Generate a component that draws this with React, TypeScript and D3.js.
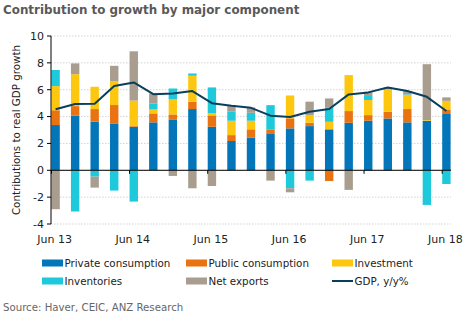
import React from "react";
import * as d3 from "d3";

const quarters = ["Jun 13","Sep 13","Dec 13","Mar 14","Jun 14","Sep 14","Dec 14","Mar 15","Jun 15","Sep 15","Dec 15","Mar 16","Jun 16","Sep 16","Dec 16","Mar 17","Jun 17","Sep 17","Dec 17","Mar 18","Jun 18"];
const privateConsumption = [3.37, 4.06, 3.62, 3.49, 3.24, 3.57, 3.79, 4.56, 3.24, 2.18, 2.42, 2.70, 3.12, 3.29, 3.05, 3.54, 3.69, 3.86, 3.57, 3.69, 4.19];
const publicConsumption = [1.1, 0.72, 0.94, 1.37, 0.05, 0.67, 0.37, 0.54, 0.85, 0.44, 0.63, 0.35, 0.75, 0.25, -0.8, 0.87, 0.42, 0.5, 0.99, 0.0, 0.34];
const investment = [1.8, 2.38, 1.66, 1.78, 1.9, 0.29, 1.12, 1.94, 0.15, 1.07, 0.64, 0.0, 1.7, 0.57, 0.56, 2.68, 1.12, 1.66, 1.04, 0.05, 0.64];
const inventories = [1.2, -3.07, -0.47, -1.51, -2.33, 0.45, 0.81, 0.17, 1.93, 0.67, 0.59, 1.8, -1.34, -0.77, 1.04, 0.0, 0.37, 0.0, 0.05, -2.58, -1.02];
const netExports = [-2.9, 0.8, -0.82, 1.14, 3.67, 0.74, -0.42, -1.34, -1.17, 0.42, 0.4, -0.77, -0.3, 1.0, 0.7, -1.46, 0.25, 0.15, 0.25, 4.16, 0.26];
const gdp = [4.55, 4.93, 4.95, 6.27, 6.54, 5.67, 5.72, 5.9, 5.0, 4.8, 4.65, 4.07, 3.97, 4.36, 4.56, 5.65, 5.8, 6.17, 5.9, 5.47, 4.41];
const yTicks = [10, 8, 6, 4, 2, 0, -2, -4];
const xTickLabels = ["Jun 13", "Jun 14", "Jun 15", "Jun 16", "Jun 17", "Jun 18"];

const seriesKeys = ["Private consumption", "Public consumption", "Investment", "Inventories", "Net exports"];
const seriesValues = [privateConsumption, publicConsumption, investment, inventories, netExports];
const colors = ["#0376B9", "#EA7311", "#FDC70F", "#1DC9DA", "#A99D90"];
const lineColor = "#0A3F5C";

const FONT = "'DejaVu Sans', Verdana, sans-serif";

export default function App() {
  const W = 470, H = 321;
  const plotLeft = 51, plotRight = 451;
  const y = d3.scaleLinear().domain([-4, 10]).range([224, 36]);
  const x = d3.scaleLinear().domain([0, quarters.length - 1]).range([55.6, 446.4]);
  const barW = 8.4;

  const table = quarters.map((q, i) => {
    const row: any = { q, i };
    seriesKeys.forEach((k, j) => (row[k] = seriesValues[j][i]));
    return row;
  });
  const stack = d3.stack<any>().keys(seriesKeys).offset(d3.stackOffsetDiverging);
  const layers = stack(table);

  const line = d3.line<number>().x((_, i) => x(i)).y((d) => y(d));

  const legendRows = [
    [
      { label: seriesKeys[0], color: colors[0], type: "box", x: 42 },
      { label: seriesKeys[1], color: colors[1], type: "box", x: 186 },
      { label: seriesKeys[2], color: colors[2], type: "box", x: 332 },
    ],
    [
      { label: seriesKeys[3], color: colors[3], type: "box", x: 42 },
      { label: seriesKeys[4], color: colors[4], type: "box", x: 186 },
      { label: "GDP, y/y%", color: lineColor, type: "line", x: 332 },
    ],
  ];

  return (
    <svg width={W} height={H} style={{ position: "absolute", left: 0, top: 0, background: "#fff" }} fontFamily={FONT}>
      <rect width={W} height={H} fill="#fff" />
      <text x={3} y={14} fontSize={11.9} fontWeight="bold" fill="#595959">Contribution to growth by major component</text>

      {/* gridlines */}
      {yTicks.map((t) => (
        <line key={"g" + t} x1={plotLeft} x2={plotRight} y1={y(t)} y2={y(t)} stroke="#C8C8C8" strokeWidth={0.8} strokeDasharray="1.5,1.5" />
      ))}

      {/* bars */}
      {layers.map((layer, j) => (
        <g key={layer.key} fill={colors[j]}>
          {layer.map((d, i) => {
            const y0 = y(d[0]), y1 = y(d[1]);
            const h = Math.abs(y0 - y1);
            if (h < 0.01) return null;
            return <rect key={i} x={x(i) - barW / 2} y={Math.min(y0, y1)} width={barW} height={h} />;
          })}
        </g>
      ))}

      {/* zero line */}
      <line x1={plotLeft} x2={plotRight} y1={y(0)} y2={y(0)} stroke="#000" strokeWidth={1} />
      {xTickLabels.map((l, k) => (
        <line key={"xt" + k} x1={x(k * 4) - barW / 2} x2={x(k * 4) - barW / 2} y1={y(0)} y2={y(0) + 3.5} stroke="#000" strokeWidth={1} />
      ))}

      {/* GDP line */}
      <path d={line(gdp) || ""} fill="none" stroke={lineColor} strokeWidth={2} strokeLinejoin="round" />

      {/* y axis */}
      <line x1={plotLeft} x2={plotLeft} y1={y(10)} y2={y(-4)} stroke="#000" strokeWidth={1} />
      {yTicks.map((t) => (
        <g key={"yt" + t}>
          <line x1={plotLeft - 4} x2={plotLeft} y1={y(t)} y2={y(t)} stroke="#000" strokeWidth={1} />
          <text x={plotLeft - 7} y={y(t)} dy="0.35em" textAnchor="end" fontSize={11} fill="#222">{t}</text>
        </g>
      ))}
      <text transform={`translate(16,${(y(10) + y(-4)) / 2}) rotate(-90)`} textAnchor="middle" dy="0.35em" fontSize={10.3} fill="#222">Contributions to real GDP growth</text>

      {/* x labels */}
      {xTickLabels.map((l, k) => (
        <text key={"xl" + k} x={x(k * 4) - 1} y={243} textAnchor="middle" fontSize={11} fill="#222">{l}</text>
      ))}

      {/* legend */}
      {legendRows.map((row, r) => (
        <g key={"lr" + r}>
          {row.map((it) => {
            const cy = 263 + r * 18;
            return (
              <g key={it.label}>
                {it.type === "box" ? (
                  <rect x={it.x} y={cy - 3.5} width={21} height={7} fill={it.color} />
                ) : (
                  <line x1={it.x} x2={it.x + 21} y1={cy} y2={cy} stroke={it.color} strokeWidth={2} />
                )}
                <text x={it.x + 22.5} y={cy} dy="0.35em" fontSize={10.3} fill="#222">{it.label}</text>
              </g>
            );
          })}
        </g>
      ))}

      <text x={3} y={307} dy="0.35em" fontSize={10.2} fill="#666">Source: Haver, CEIC, ANZ Research</text>
    </svg>
  );
}
